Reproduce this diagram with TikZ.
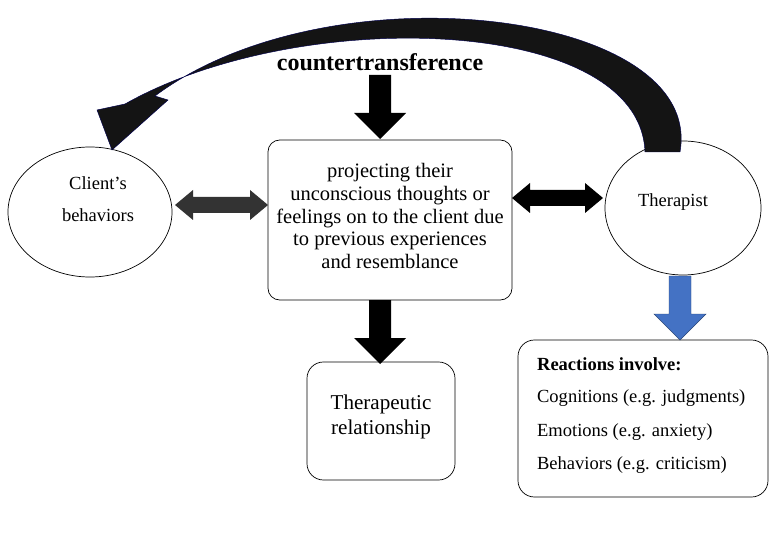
\documentclass[tikz,border=0pt]{standalone}
\usepackage{fontspec}
\setmainfont{Liberation Serif}
\usetikzlibrary{shapes.geometric}
\definecolor{wordblue}{HTML}{4472C4}
\begin{document}
\begin{tikzpicture}[
    x=0.03cm, y=-0.03cm,
    bubble/.style={ellipse, draw, semithick, inner sep=0pt},
    txt/.style={font=\fontsize{15.8}{19.5}\selectfont, align=center},
    pics/downblk/.style={code={
        \fill[#1] (-11,0) -- (11,0) -- (11,38) -- (26,38) -- (0,64) -- (-26,38) -- (-11,38) -- cycle;}},
    pics/dblarrow/.style args={#1/#2}{code={
        \fill[#2] (0,0) -- (18,-15) -- (18,-8) -- (#1-18,-8) -- (#1-18,-15) -- (#1,0)
            -- (#1-18,15) -- (#1-18,8) -- (18,8) -- (18,15) -- cycle;}}
]
\useasboundingbox (0,0) rectangle (777,537);

% nodes
\node[bubble, minimum width=4.92cm, minimum height=3.9cm] (client) at (90,212) {};
\node[txt] (clientA) at (98,183) {Client’s};
\node[txt] (clientB) at (98,215) {behaviors};

\draw[semithick, rounded corners=10pt] (268,300) -- (268,140) -- (512,140) -- (512,300) -- cycle;
\node[txt, font=\fontsize{17.5}{19.5}\selectfont] (proj) at (390,216) {projecting their\\unconscious thoughts or\\feelings on to the client due\\to previous experiences\\and resemblance};

\node[bubble, minimum width=4.68cm, minimum height=4.02cm] (ther) at (683,208) {};
\node[txt] (therT) at (673,202) {Therapist};

\draw[semithick, rounded corners=14pt] (307,362) rectangle (455,480);
\node[txt, font=\fontsize{18}{22}\selectfont] (rel) at (381,417) {Therapeutic\\relationship};

\draw[semithick, rounded corners=14pt] (518,340) rectangle (768,497);
\node[txt, anchor=west] (r1) at (533,364) {\textbf{Reactions involve:}};
\node[txt, anchor=west] (r2) at (533,398) {Cognitions (e.g. judgments)};
\node[txt, anchor=west] (r3) at (533,432) {Emotions (e.g. anxiety)};
\node[txt, anchor=west] (r4) at (533,465) {Behaviors (e.g. criticism)};

\node[font=\fontsize{20.5}{24}\selectfont\bfseries] (ct) at (380,62) {countertransference};

% block arrows
\pic at (380,75) {downblk={black}};
\pic at (380,300) {downblk={black}};
\pic at (680,276) {downblk={fill=wordblue, draw=wordblue!60!black}};
\pic at (175,205) {dblarrow={93/black!80}};
\pic at (512,198) {dblarrow={91/black}};

% curved arrow from therapist back to the client
\filldraw[fill=black!92, draw=blue!30!black]
    (680,152) .. controls (705,10) and (330,-35) .. (155,96)
    -- (168,100) -- (112,150) -- (97,110) -- (125,104)
    .. controls (300,5) and (640,15) .. (645,152) -- cycle;
\end{tikzpicture}
\end{document}
